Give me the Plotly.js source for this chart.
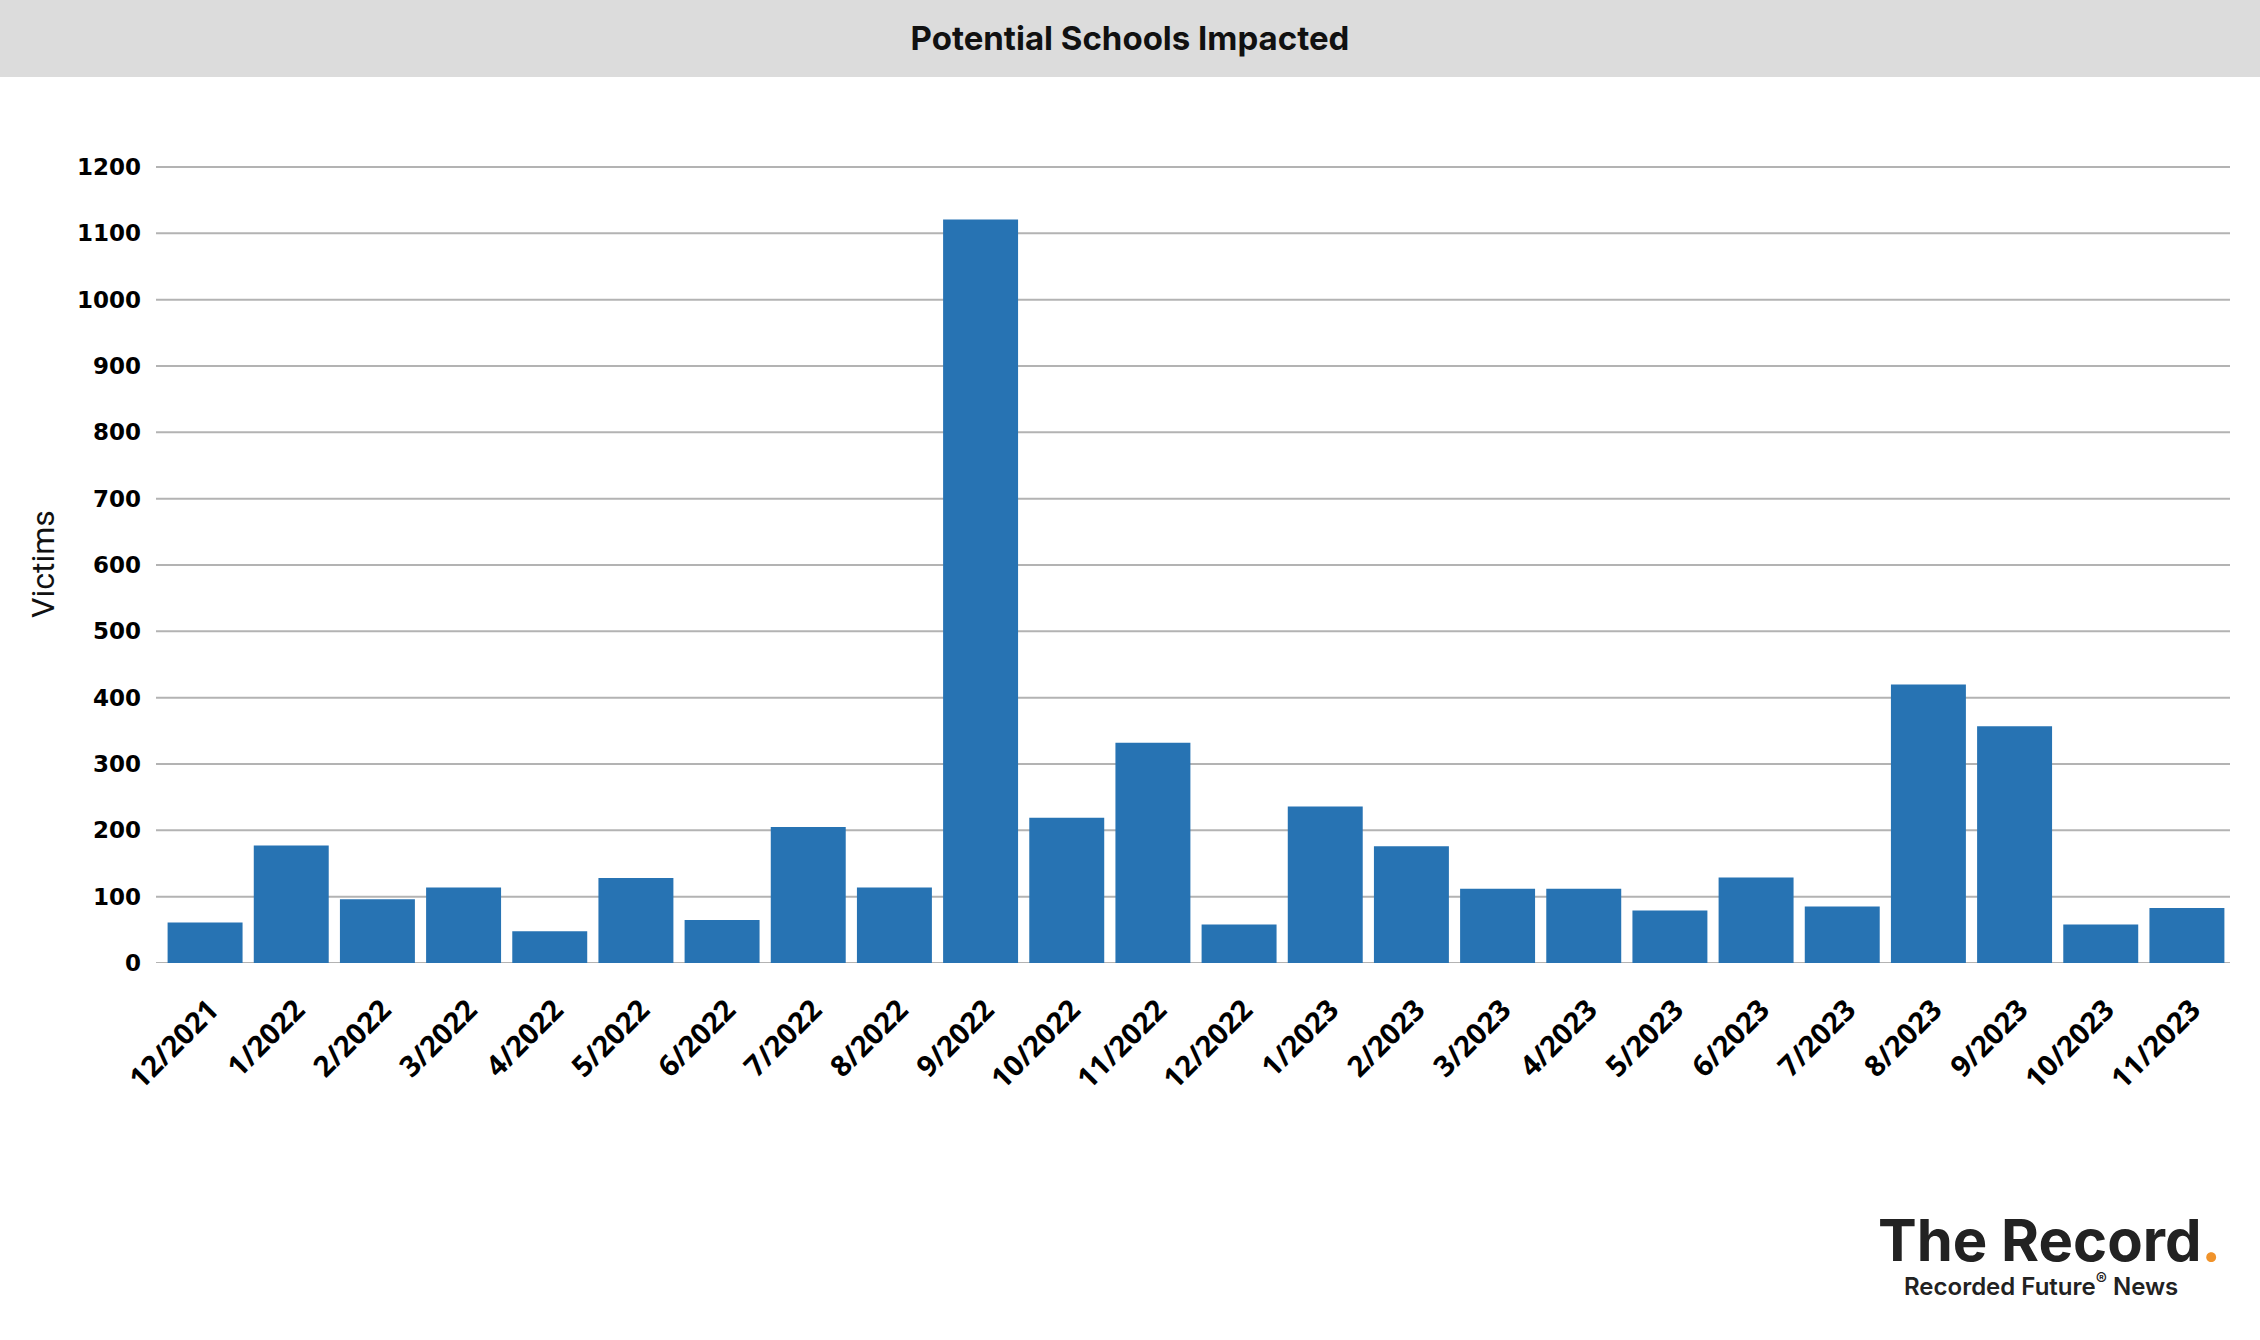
<!DOCTYPE html>
<html>
<head>
<meta charset="utf-8">
<script src="https://cdn.plot.ly/plotly-3.0.1.min.js"></script>
<style>html,body{margin:0;padding:0;background:#fff;}#chart{width:2260px;height:1340px;}</style>
</head>
<body>
<div id="chart"></div>
<script>
const months = ["12/2021","1/2022","2/2022","3/2022","4/2022","5/2022","6/2022","7/2022","8/2022","9/2022","10/2022","11/2022","12/2022","1/2023","2/2023","3/2023","4/2023","5/2023","6/2023","7/2023","8/2023","9/2023","10/2023","11/2023"];
const victims = [61,177,96,114,48,128,65,205,114,1121,219,332,58,236,176,112,112,79,129,85,420,357,58,83];
const yTicks = [0,100,200,300,400,500,600,700,800,900,1000,1100,1200];

const W = 2260, H = 1340;
const L = 162, R = 2230, T = 165, B = 963;
const pw = R - L, ph = B - T;
const px = x => (x - L) / pw;
const py = y => (B - y) / ph;

const trace = {
  type: 'bar',
  x: months,
  y: victims,
  marker: {color: '#2773b3', line: {width: 0}},
  hoverinfo: 'x+y'
};

const gridShapes = yTicks.map(v => ({
  type: 'line', xref: 'paper', yref: 'y', layer: 'below',
  x0: px(156), x1: 1, y0: v, y1: v,
  line: {color: '#b3b3b3', width: 2}
}));

const layout = {
  width: W, height: H,
  paper_bgcolor: '#ffffff',
  plot_bgcolor: '#ffffff',
  margin: {l: L, r: W - R, t: T, b: H - B, pad: 0},
  bargap: 0.13,
  showlegend: false,
  title: {
    text: 'Potential Schools Impacted',
    x: 0.5, xref: 'container', xanchor: 'center',
    y: 1 - 38 / H, yref: 'container', yanchor: 'middle',
    font: {family: 'Inter', size: 33, weight: 700, color: '#111111'}
  },
  xaxis: {
    type: 'category',
    tickangle: -45,
    ticks: '',
    showgrid: false,
    showline: false,
    zeroline: false,
    ticklabelstandoff: 23,
    ticklabelshift: 5,
    tickfont: {family: 'Open Sans', size: 29, weight: 700, color: '#000000'},
    automargin: false
  },
  yaxis: {
    range: [0, 1203],
    tickvals: yTicks,
    ticktext: yTicks.map(String),
    showgrid: false,
    zeroline: false,
    showline: false,
    ticks: '',
    ticklabelstandoff: 20,
    tickfont: {family: 'DejaVu Sans', size: 23, weight: 700, color: '#000000'},
    title: {
      text: 'Victims',
      standoff: 12,
      font: {family: 'Roboto', size: 32, color: '#111111'}
    },
    automargin: false,
    fixedrange: true
  },
  shapes: [{
    type: 'rect', xref: 'paper', yref: 'paper', layer: 'below',
    x0: px(0), x1: px(W), y0: py(77), y1: py(0),
    fillcolor: '#dcdcdc', line: {width: 0}
  }].concat(gridShapes),
  annotations: [
    {
      xref: 'paper', yref: 'paper', x: px(1876), y: py(1240),
      xanchor: 'left', yanchor: 'middle', showarrow: false,
      text: "The Record<span style='color:#f0932b'>.</span>",
      font: {family: 'Inter', size: 58, weight: 700, color: '#222222'}
    },
    {
      xref: 'paper', yref: 'paper', x: px(1902), y: py(1285),
      xanchor: 'left', yanchor: 'middle', showarrow: false,
      text: 'Recorded Future<sup>®</sup> News',
      font: {family: 'Inter', size: 24, weight: 600, color: '#222222'}
    }
  ]
};

Plotly.newPlot('chart', [trace], layout, {displayModeBar: false, staticPlot: true});
</script>
</body>
</html>
